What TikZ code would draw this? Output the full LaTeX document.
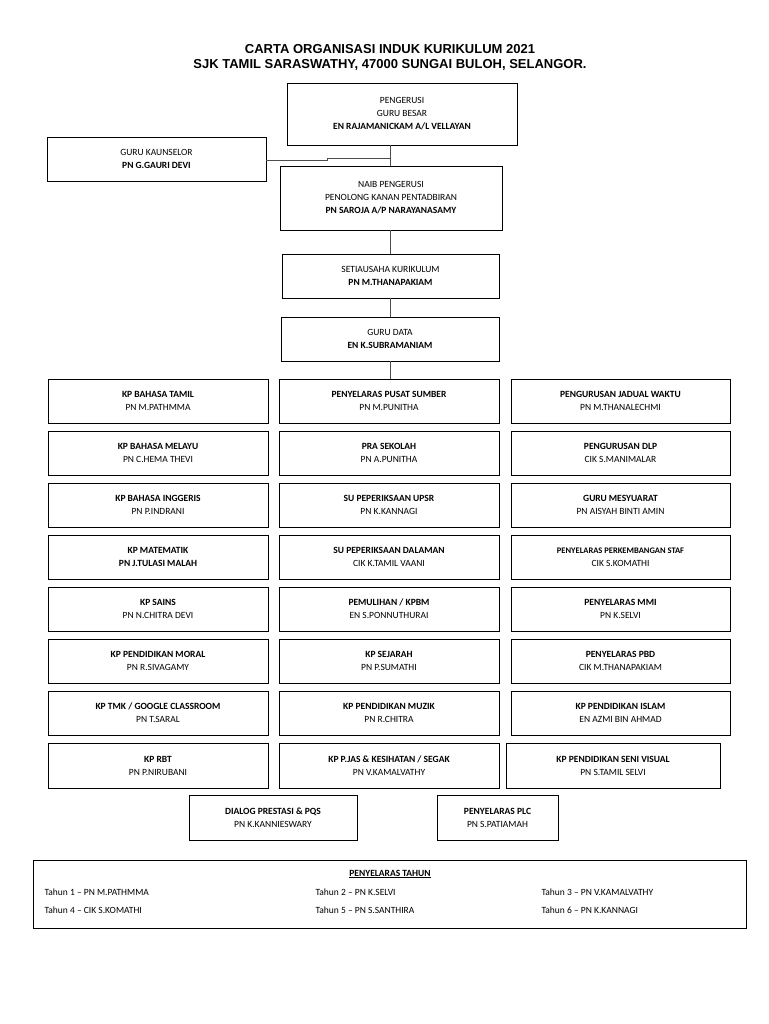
\documentclass[tikz,border=0pt]{standalone}
\usepackage{fontspec}
\setmainfont{Carlito}
\newfontfamily\hd{Liberation Sans}
\begin{document}
\begin{tikzpicture}[x=1pt,y=-1pt,
  bx/.style={draw,line width=0.8pt,inner sep=0pt},
  ln/.style={line width=0.8pt,draw=black!70},
  tx/.style={font=\fontsize{9.5}{13}\selectfont,align=center}]
\useasboundingbox (0,0) rectangle (768,1024);
\node[font=\hd\bfseries\fontsize{13}{15}\selectfont,align=center] (title) at (390,57) {CARTA ORGANISASI INDUK KURIKULUM 2021\\SJK TAMIL SARASWATHY, 47000 SUNGAI BULOH, SELANGOR.};
\newcommand\bbox[6]{\draw[bx] (#2,#3) rectangle (#4,#5); \node[tx] (#1) at ({(#2+#4)/2},{(#3+#5)/2}) {#6};}
\bbox{peng}{287}{83}{517}{145}{PENGERUSI\\GURU BESAR\\\textbf{EN RAJAMANICKAM A/L VELLAYAN}}
\bbox{kaun}{47}{137}{266}{181}{GURU KAUNSELOR\\\textbf{PN G.GAURI DEVI}}
\bbox{naib}{280}{166}{502}{230}{NAIB PENGERUSI\\PENOLONG KANAN PENTADBIRAN\\\textbf{PN SAROJA A/P NARAYANASAMY}}
\bbox{setia}{282}{254}{499}{298}{SETIAUSAHA KURIKULUM\\\textbf{PN M.THANAPAKIAM}}
\bbox{data}{281}{317}{499}{361}{GURU DATA\\\textbf{EN K.SUBRAMANIAM}}
\coordinate (k1) at (266,160);
\draw[ln] (390,145) -- (390,166);
\draw[ln] (k1) -- (327,160) -- (327,158) -- (390,158);
\draw[ln] (390,230) -- (390,254);
\draw[ln] (390,298) -- (390,317);
\draw[ln] (390,361) -- (390,379);
\newcommand\gb[5]{\bbox{#1}{#2}{#3}{#4}{#3+44}{\textbf{#5}}}
% column 1
\bbox{a1}{48}{379}{268}{423}{\textbf{KP BAHASA TAMIL}\\PN M.PATHMMA}
\bbox{a2}{48}{431}{268}{475}{\textbf{KP BAHASA MELAYU}\\PN C.HEMA THEVI}
\bbox{a3}{48}{483}{268}{527}{\textbf{KP BAHASA INGGERIS}\\PN P.INDRANI}
\bbox{a4}{48}{535}{268}{579}{\textbf{KP MATEMATIK}\\\textbf{PN J.TULASI MALAH}}
\bbox{a5}{48}{587}{268}{631}{\textbf{KP SAINS}\\PN N.CHITRA DEVI}
\bbox{a6}{48}{639}{268}{683}{\textbf{KP PENDIDIKAN MORAL}\\PN R.SIVAGAMY}
\bbox{a7}{48}{691}{268}{735}{\textbf{KP TMK / GOOGLE CLASSROOM}\\PN T.SARAL}
\bbox{a8}{48}{743}{268}{788}{\textbf{KP RBT}\\PN P.NIRUBANI}
% column 2
\bbox{b1}{279}{379}{499}{423}{\textbf{PENYELARAS PUSAT SUMBER}\\PN M.PUNITHA}
\bbox{b2}{279}{431}{499}{475}{\textbf{PRA SEKOLAH}\\PN A.PUNITHA}
\bbox{b3}{279}{483}{499}{527}{\textbf{SU PEPERIKSAAN UPSR}\\PN K.KANNAGI}
\bbox{b4}{279}{535}{499}{579}{\textbf{SU PEPERIKSAAN DALAMAN}\\CIK K.TAMIL VAANI}
\bbox{b5}{279}{587}{499}{631}{\textbf{PEMULIHAN / KPBM}\\EN S.PONNUTHURAI}
\bbox{b6}{279}{639}{499}{683}{\textbf{KP SEJARAH}\\PN P.SUMATHI}
\bbox{b7}{279}{691}{499}{735}{\textbf{KP PENDIDIKAN MUZIK}\\PN R.CHITRA}
\bbox{b8}{279}{743}{499}{788}{\textbf{KP P.JAS \& KESIHATAN / SEGAK}\\PN V.KAMALVATHY}
% column 3
\bbox{c1}{511}{379}{730}{423}{\textbf{PENGURUSAN JADUAL WAKTU}\\PN M.THANALECHMI}
\bbox{c2}{511}{431}{730}{475}{\textbf{PENGURUSAN DLP}\\CIK S.MANIMALAR}
\bbox{c3}{511}{483}{730}{527}{\textbf{GURU MESYUARAT}\\PN AISYAH BINTI AMIN}
\bbox{c4}{511}{535}{730}{579}{{\fontsize{8.5}{13}\selectfont\textbf{PENYELARAS PERKEMBANGAN STAF}}\\CIK S.KOMATHI}
\bbox{c5}{511}{587}{730}{631}{\textbf{PENYELARAS MMI}\\PN K.SELVI}
\bbox{c6}{511}{639}{730}{683}{\textbf{PENYELARAS PBD}\\CIK M.THANAPAKIAM}
\bbox{c7}{511}{691}{730}{735}{\textbf{KP PENDIDIKAN ISLAM}\\EN AZMI BIN AHMAD}
\bbox{c8}{506}{743}{720}{788}{\textbf{KP PENDIDIKAN SENI VISUAL}\\PN S.TAMIL SELVI}
% bottom
\bbox{d1}{189}{795}{357}{840}{\textbf{DIALOG PRESTASI \& PQS}\\PN K.KANNIESWARY}
\bbox{d2}{437}{795}{558}{840}{\textbf{PENYELARAS PLC}\\PN S.PATIAMAH}
\draw[bx] (33,860) rectangle (746,928);
\node[tx] (pt) at (390,874) {\textbf{\underline{PENYELARAS TAHUN}}};
\begin{scope}[every node/.style={tx,anchor=west}]
\node (t1) at (41,892) {Tahun 1 – PN M.PATHMMA};
\node (t2) at (312,892) {Tahun 2 – PN K.SELVI};
\node (t3) at (538,892) {Tahun 3 – PN V.KAMALVATHY};
\node (t4) at (41,910) {Tahun 4 – CIK S.KOMATHI};
\node (t5) at (312,910) {Tahun 5 – PN S.SANTHIRA};
\node (t6) at (538,910) {Tahun 6 – PN K.KANNAGI};
\end{scope}
\end{tikzpicture}
\end{document}
